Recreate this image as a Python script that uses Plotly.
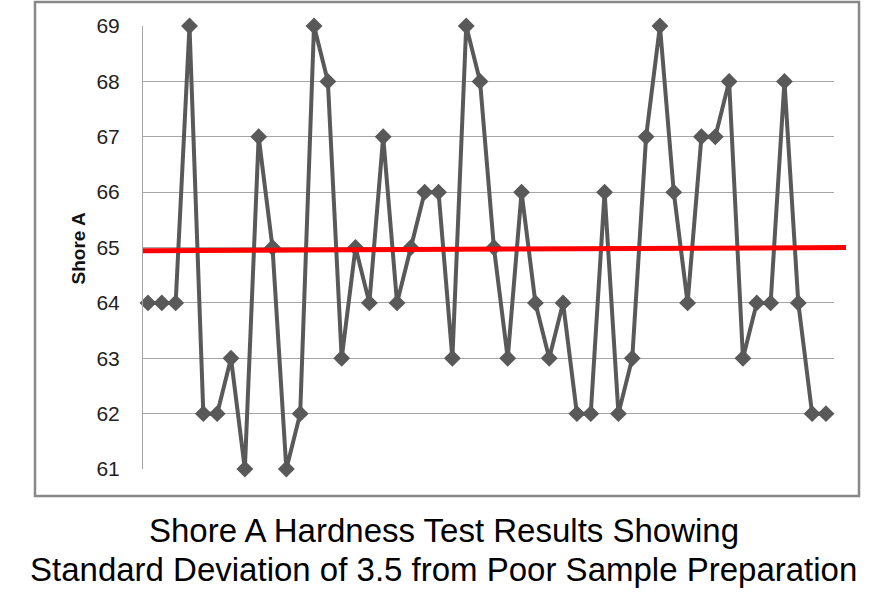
import plotly.graph_objects as go

# ---- data ----
sample_index = list(range(50))
shore_a = [64, 64, 64, 69, 62, 62, 63, 61, 67, 65,
           61, 62, 69, 68, 63, 65, 64, 67, 64, 65,
           66, 66, 63, 69, 68, 65, 63, 66, 64, 63,
           64, 62, 62, 66, 62, 63, 67, 69, 66, 64,
           67, 67, 68, 63, 64, 64, 68, 64, 62, 62]
mean_line_x = [-0.36, 50.45]
mean_line_y = [64.94, 65.0]
y_ticks = [61, 62, 63, 64, 65, 66, 67, 68, 69]
title_lines = ["Shore A Hardness Test Results Showing",
               "Standard Deviation of 3.5 from Poor Sample Preparation"]
y_title = "Shore A"

W, H = 894, 605
L, R, T, B = 143, 60, 26, 136

fig = go.Figure()
fig.add_trace(go.Scatter(
    x=sample_index, y=shore_a, mode="lines+markers",
    line=dict(color="#595959", width=4),
    marker=dict(symbol="diamond", size=13, color="#595959"),
    cliponaxis=False, showlegend=False, xaxis="x", yaxis="y",
))
fig.add_trace(go.Scatter(
    x=mean_line_x, y=mean_line_y, mode="lines",
    line=dict(color="#ff0000", width=5),
    showlegend=False, xaxis="x2", yaxis="y2",
))

dom_left = L / W
dom_right = (W - R) / W
dom2_right = 846 / W
fig.update_layout(
    template="none",
    width=W, height=H,
    margin=dict(l=0, r=0, t=0, b=0, pad=0),
    paper_bgcolor="white", plot_bgcolor="rgba(0,0,0,0)",
    font=dict(family="Liberation Sans, Arial, sans-serif", color="#222222"),
    xaxis=dict(domain=[dom_left, dom_right], range=[-0.36, 49.58],
               visible=False, showgrid=False, zeroline=False, automargin=False),
    yaxis=dict(domain=[B / H, 1 - T / H], range=[61, 69], automargin=False,
               tickvals=y_ticks, ticktext=[str(v) for v in y_ticks],
               showgrid=True, gridcolor="#a6a6a6", gridwidth=1,
               zeroline=False, showline=True, linecolor="#a6a6a6", linewidth=1,
               ticks="outside", ticklen=18, tickcolor="rgba(0,0,0,0)",
               tickfont=dict(size=21, color="#222222")),
    xaxis2=dict(domain=[dom_left, dom2_right], range=mean_line_x, automargin=False,
                visible=False, showgrid=False, zeroline=False, anchor="y2"),
    yaxis2=dict(domain=[B / H, 1 - T / H], range=[61, 69], automargin=False,
                visible=False, showgrid=False, zeroline=False, anchor="x2"),
)

def px_x(px):
    return px / W

def px_y(py):
    return 1 - py / H

# outer chart border
fig.add_shape(type="rect", xref="paper", yref="paper",
              x0=px_x(35), x1=px_x(859), y0=px_y(496), y1=px_y(2),
              line=dict(color="#888888", width=2.5), fillcolor="rgba(0,0,0,0)",
              layer="below")

# y-axis title
fig.add_annotation(text="<b>" + y_title + "</b>", xref="paper", yref="paper",
                   x=px_x(78), y=px_y(248.5), textangle=-90, showarrow=False,
                   xanchor="center", yanchor="middle",
                   font=dict(size=19, color="#111111"))

# caption lines
for line_text, cy in zip(title_lines, [530, 569.5]):
    fig.add_annotation(text=line_text, xref="paper", yref="paper",
                       x=px_x(443.5), y=px_y(cy), showarrow=False,
                       xanchor="center", yanchor="middle",
                       font=dict(size=33, color="#000000",
                                 family="Liberation Sans, Arial, sans-serif"))

fig.write_html("out.html")
